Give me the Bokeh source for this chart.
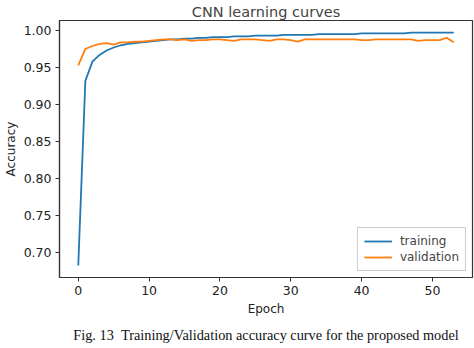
from bokeh.plotting import figure
from bokeh.models import FixedTicker, PrintfTickFormatter, Range1d, Title, Legend, LegendItem
from bokeh.embed import file_html
from bokeh.resources import INLINE

epochs = list(range(54))
training = [0.683, 0.932, 0.958, 0.967, 0.973, 0.977, 0.980, 0.982, 0.983, 0.984,
            0.985, 0.986, 0.987, 0.988, 0.988, 0.989, 0.989, 0.990, 0.990, 0.991,
            0.991, 0.991, 0.992, 0.992, 0.992, 0.993, 0.993, 0.993, 0.993, 0.994,
            0.994, 0.994, 0.994, 0.994, 0.995, 0.995, 0.995, 0.995, 0.995, 0.995,
            0.996, 0.996, 0.996, 0.996, 0.996, 0.996, 0.996, 0.997, 0.997, 0.997,
            0.997, 0.997, 0.997, 0.997]
validation = [0.953, 0.975, 0.979, 0.982, 0.983, 0.981, 0.984, 0.984, 0.985, 0.985,
              0.986, 0.987, 0.988, 0.988, 0.987, 0.988, 0.986, 0.987, 0.987, 0.988,
              0.988, 0.987, 0.986, 0.988, 0.988, 0.988, 0.987, 0.986, 0.988, 0.988,
              0.987, 0.985, 0.988, 0.988, 0.988, 0.988, 0.988, 0.988, 0.988, 0.988,
              0.987, 0.987, 0.988, 0.988, 0.988, 0.988, 0.988, 0.988, 0.986, 0.987,
              0.987, 0.987, 0.990, 0.984]
x_ticks = [0, 10, 20, 30, 40, 50]
y_ticks = [0.70, 0.75, 0.80, 0.85, 0.90, 0.95, 1.00]
title_text = "CNN learning curves"
caption_text = "Fig. 13\u00a0\u00a0Training/Validation accuracy curve for the proposed model"

FONT = "DejaVu Sans"

p = figure(width=474, height=348, output_backend="svg", toolbar_location=None,
           x_range=Range1d(-2.65, 55.65), y_range=Range1d(0.6668, 1.0134),
           min_border_left=56, min_border_right=2, min_border_top=20, min_border_bottom=70)

p.title.text = title_text
p.title.text_font = FONT
p.title.text_font_size = "14.5px"
p.title.text_font_style = "normal"
p.title.align = "center"
p.title.standoff = 2
p.title.offset = 0

cap = Title(text=caption_text, align="center", text_font="Liberation Serif",
            text_font_size="14.3px", text_font_style="normal", text_color="#111111",
            standoff=12)
p.add_layout(cap, "below")

r1 = p.line(epochs, training, line_color="#1f77b4", line_width=1.8)
r2 = p.line(epochs, validation, line_color="#ff7f0e", line_width=1.8)

legend = Legend(items=[LegendItem(label="training", renderers=[r1]),
                       LegendItem(label="validation", renderers=[r2])],
                location="bottom_right", label_text_font=FONT, label_text_font_size="12px",
                border_line_color="#cccccc", border_line_alpha=1.0, background_fill_alpha=0.8,
                glyph_width=28, label_standoff=8, spacing=2, padding=6, margin=6,
                label_height=14, glyph_height=14)
p.add_layout(legend)

p.xgrid.visible = False
p.ygrid.visible = False
p.outline_line_color = "#333333"
p.outline_line_width = 1.2

for ax in (p.xaxis[0], p.yaxis[0]):
    ax.axis_line_color = "#333333"
    ax.axis_line_width = 1.2
    ax.major_tick_line_color = "#333333"
    ax.major_tick_in = 0
    ax.major_tick_out = 4
    ax.minor_tick_line_color = None
    ax.major_label_text_font = FONT
    ax.major_label_text_font_size = "12.5px"
    ax.major_label_text_color = "#222222"
    ax.axis_label_text_font = FONT
    ax.axis_label_text_font_size = "12px"
    ax.axis_label_text_font_style = "normal"
    ax.axis_label_text_color = "#222222"
    ax.major_label_standoff = 4

p.xaxis.ticker = FixedTicker(ticks=x_ticks)
p.yaxis.ticker = FixedTicker(ticks=y_ticks)
p.yaxis.formatter = PrintfTickFormatter(format="%.2f")
p.xaxis.axis_label = "Epoch"
p.yaxis.axis_label = "Accuracy"
p.xaxis.axis_label_standoff = 4
p.yaxis.axis_label_standoff = 3

open("out.html", "w").write(file_html(p, INLINE))
